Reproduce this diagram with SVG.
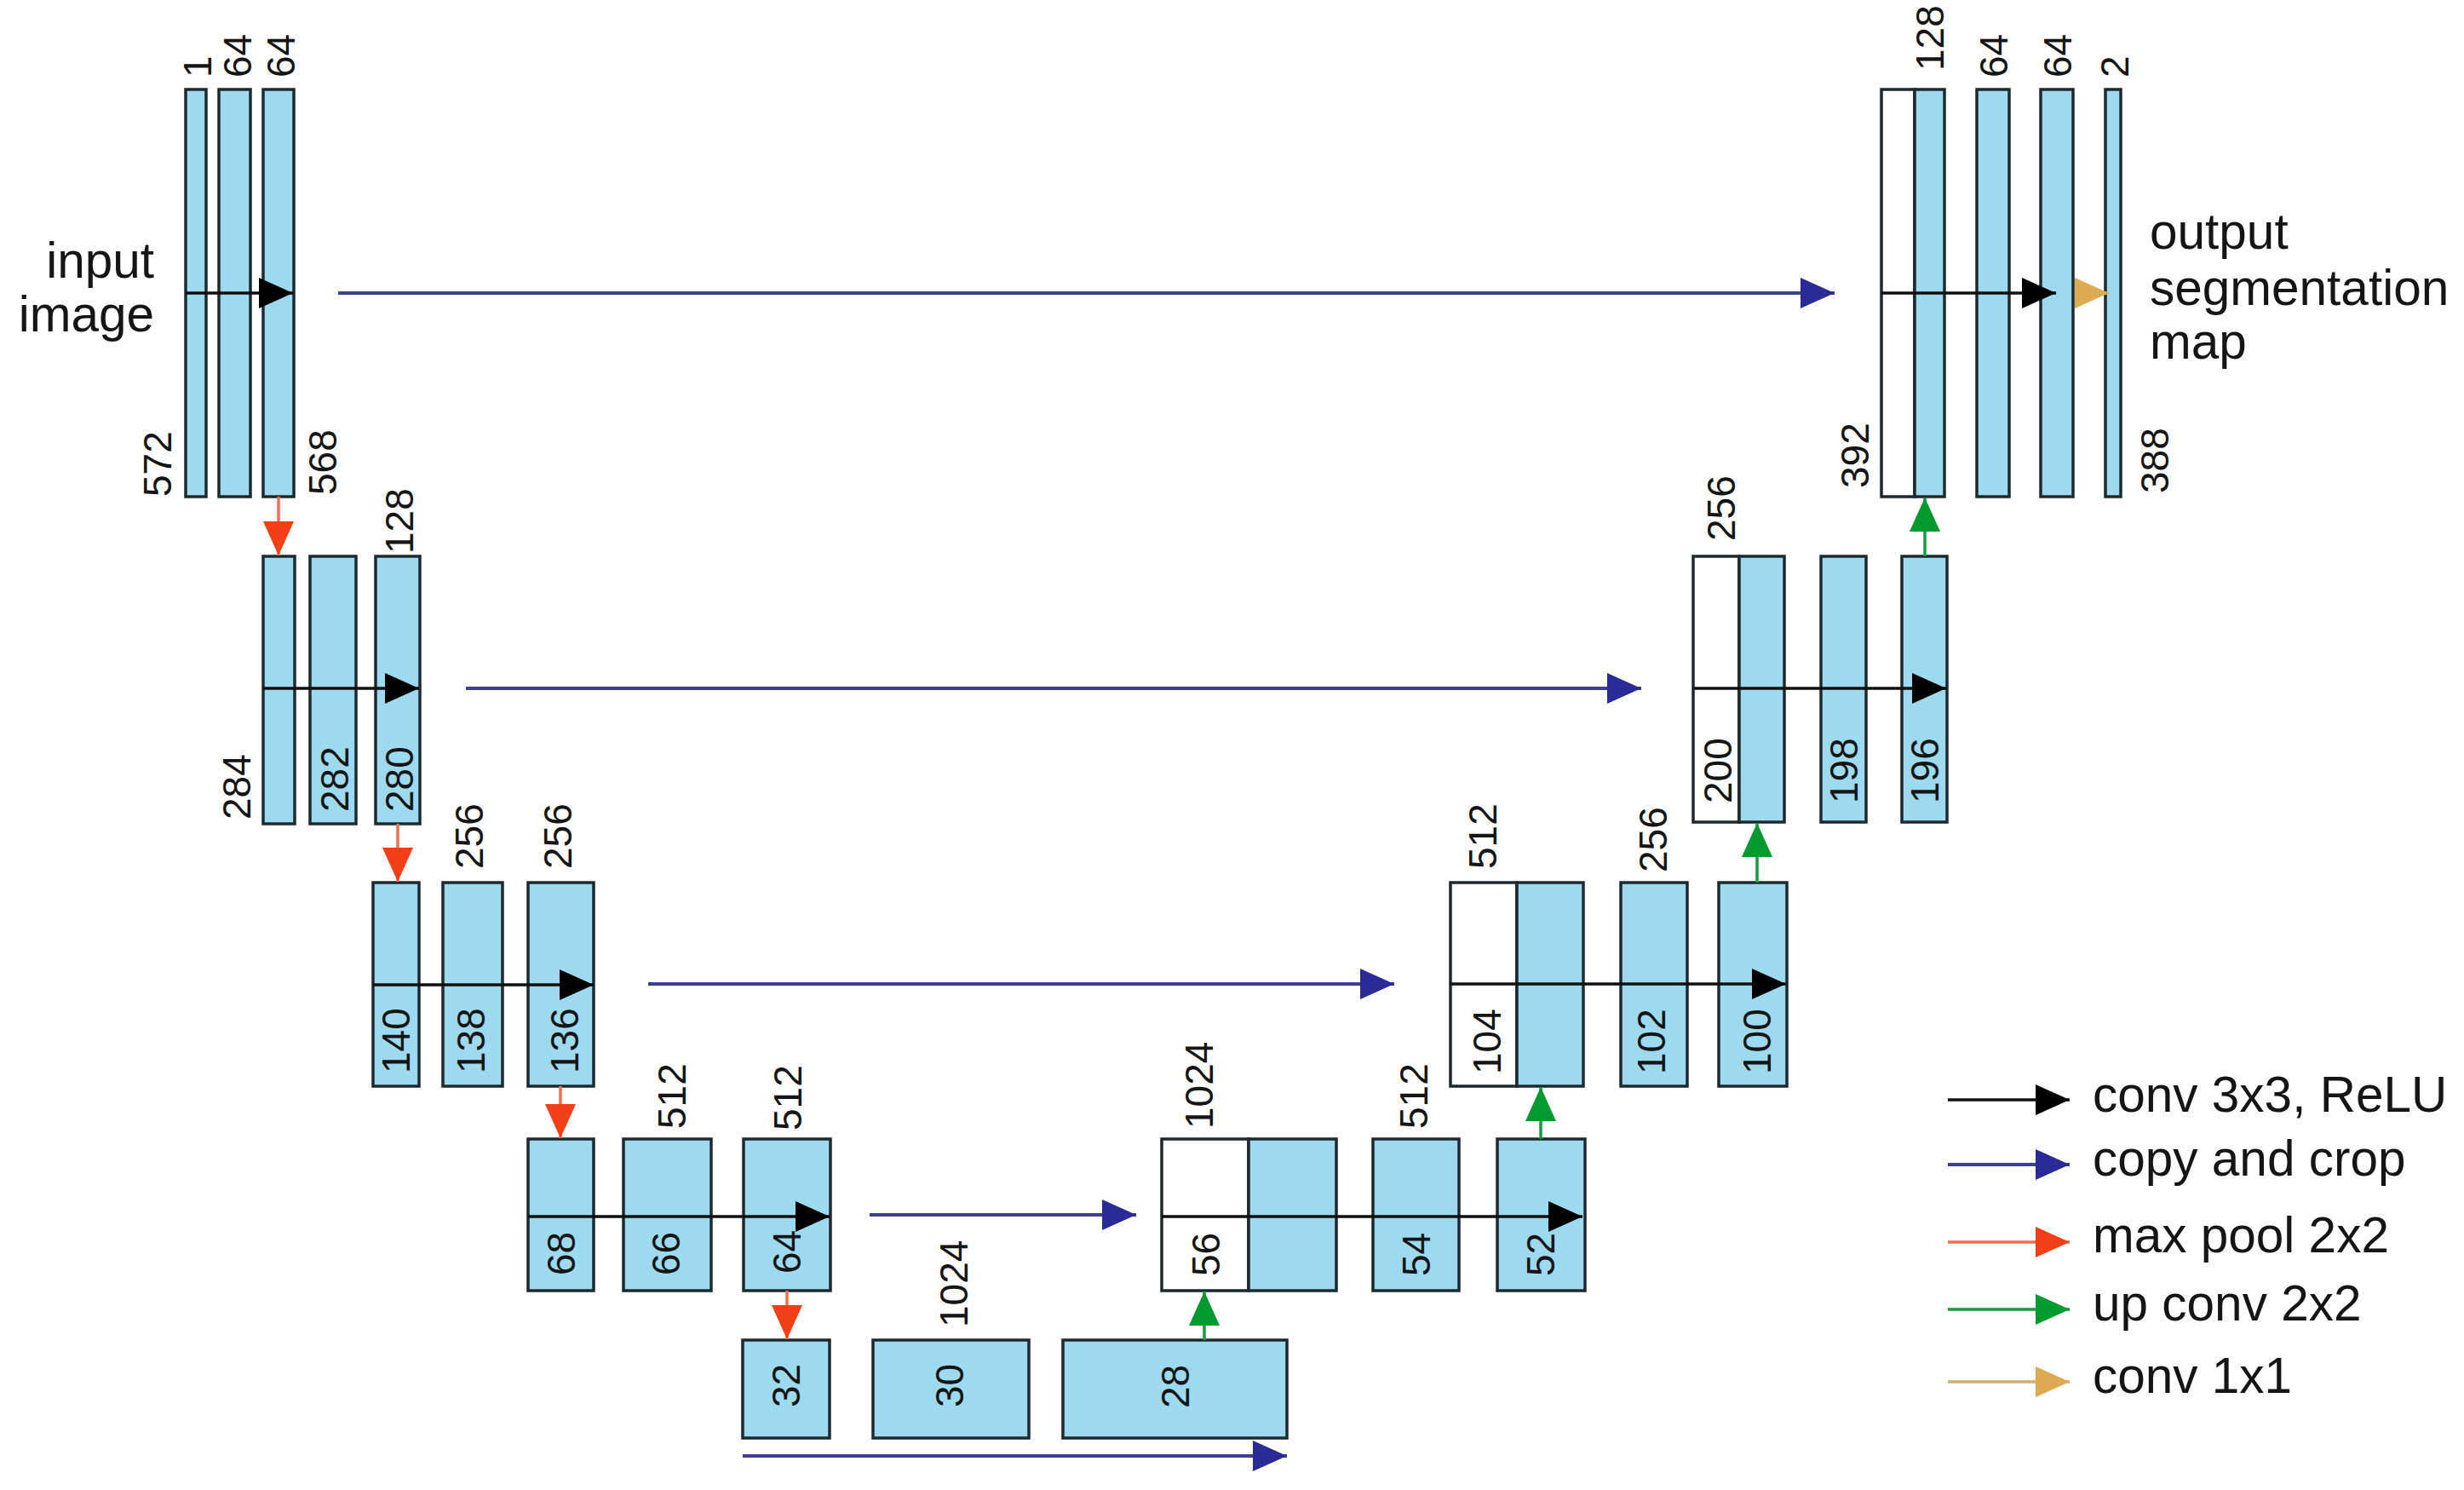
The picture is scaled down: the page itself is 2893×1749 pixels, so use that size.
<svg xmlns="http://www.w3.org/2000/svg" width="2893" height="1749" viewBox="0 0 2893 1749">
<defs>
<style>
.b{fill:#9dd9ef;stroke:#1c2a30;stroke-width:3.5}
.w{fill:#ffffff;stroke:#1c2a30;stroke-width:3.5}
.n{font-family:"Liberation Sans",Arial,sans-serif;font-size:46px;fill:#151515}
.t{font-family:"Liberation Sans",Arial,sans-serif;font-size:58.5px;fill:#151515}
.conv{stroke:#111;stroke-width:3.5;fill:none;marker-end:url(#mk)}
.copy{stroke:#3e418c;stroke-width:4;fill:none;marker-end:url(#mc)}
.pool{stroke:#f07050;stroke-width:3.5;fill:none;marker-end:url(#mp)}
.up{stroke:#1a9a40;stroke-width:3.5;fill:none;marker-end:url(#mu)}
.one{stroke:#d2ae6e;stroke-width:3.5;fill:none;marker-end:url(#mg)}
</style>
<marker id="mk" markerUnits="userSpaceOnUse" markerWidth="40" markerHeight="36" refX="40" refY="18" orient="auto"><path d="M0,0 L40,18 L0,36 z" fill="#000"/></marker>
<marker id="mc" markerUnits="userSpaceOnUse" markerWidth="40" markerHeight="36" refX="40" refY="18" orient="auto"><path d="M0,0 L40,18 L0,36 z" fill="#2b2b98"/></marker>
<marker id="mp" markerUnits="userSpaceOnUse" markerWidth="40" markerHeight="36" refX="40" refY="18" orient="auto"><path d="M0,0 L40,18 L0,36 z" fill="#f23f17"/></marker>
<marker id="mu" markerUnits="userSpaceOnUse" markerWidth="40" markerHeight="36" refX="40" refY="18" orient="auto"><path d="M0,0 L40,18 L0,36 z" fill="#009a2e"/></marker>
<marker id="mg" markerUnits="userSpaceOnUse" markerWidth="40" markerHeight="36" refX="40" refY="18" orient="auto"><path d="M0,0 L40,18 L0,36 z" fill="#dcaa52"/></marker>
</defs>
<rect width="2893" height="1749" fill="#ffffff"/>

<!-- Level 1 left -->
<g id="enc1">
<rect class="b" x="218" y="105" width="24" height="478"/>
<rect class="b" x="257" y="105" width="37" height="478"/>
<rect class="b" x="309" y="105" width="36" height="478"/>
<text class="n" transform="translate(248,91) rotate(-90)">1</text>
<text class="n" transform="translate(295,91) rotate(-90)">64</text>
<text class="n" transform="translate(346,91) rotate(-90)">64</text>
<text class="n" transform="translate(201,583) rotate(-90)">572</text>
<text class="n" transform="translate(395,581) rotate(-90)">568</text>
<text class="t" x="181" y="326" text-anchor="end">input</text>
<text class="t" x="181" y="389" text-anchor="end">image</text>
</g>

<!-- Level 2 left -->
<g id="enc2">
<rect class="b" x="309" y="653" width="37" height="314"/>
<rect class="b" x="364" y="653" width="54" height="314"/>
<rect class="b" x="441" y="653" width="52" height="314"/>
<text class="n" transform="translate(485,650) rotate(-90)">128</text>
<text class="n" transform="translate(294,962) rotate(-90)">284</text>
<text class="n" transform="translate(409,953) rotate(-90)">282</text>
<text class="n" transform="translate(485,953) rotate(-90)">280</text>
</g>

<!-- Level 3 left -->
<g id="enc3">
<rect class="b" x="438" y="1036" width="54" height="239"/>
<rect class="b" x="520" y="1036" width="70" height="239"/>
<rect class="b" x="620" y="1036" width="77" height="239"/>
<text class="n" transform="translate(567,1020) rotate(-90)">256</text>
<text class="n" transform="translate(671,1020) rotate(-90)">256</text>
<text class="n" transform="translate(481,1260) rotate(-90)">140</text>
<text class="n" transform="translate(569,1260) rotate(-90)">138</text>
<text class="n" transform="translate(679,1260) rotate(-90)">136</text>
</g>

<!-- Level 4 left -->
<g id="enc4">
<rect class="b" x="620" y="1337" width="77" height="178"/>
<rect class="b" x="732" y="1337" width="103" height="178"/>
<rect class="b" x="873" y="1337" width="102" height="178"/>
<text class="n" transform="translate(805,1325) rotate(-90)">512</text>
<text class="n" transform="translate(941,1327) rotate(-90)">512</text>
<text class="n" transform="translate(675,1497) rotate(-90)">68</text>
<text class="n" transform="translate(798,1497) rotate(-90)">66</text>
<text class="n" transform="translate(940,1495) rotate(-90)">64</text>
</g>

<!-- Bottleneck -->
<g id="bottleneck">
<rect class="b" x="872" y="1573" width="102" height="115"/>
<rect class="b" x="1025" y="1573" width="183" height="115"/>
<rect class="b" x="1248" y="1573" width="263" height="115"/>
<text class="n" transform="translate(1136,1558) rotate(-90)">1024</text>
<text class="n" transform="translate(939,1652) rotate(-90)">32</text>
<text class="n" transform="translate(1131,1652) rotate(-90)">30</text>
<text class="n" transform="translate(1396,1653) rotate(-90)">28</text>
</g>

<!-- Level 4 right -->
<g id="dec4">
<rect class="w" x="1364" y="1337" width="102" height="178"/>
<rect class="b" x="1466" y="1337" width="103" height="178"/>
<rect class="b" x="1612" y="1337" width="101" height="178"/>
<rect class="b" x="1758" y="1337" width="103" height="178"/>
<text class="n" transform="translate(1424,1325) rotate(-90)">1024</text>
<text class="n" transform="translate(1676,1325) rotate(-90)">512</text>
<text class="n" transform="translate(1432,1498) rotate(-90)">56</text>
<text class="n" transform="translate(1679,1498) rotate(-90)">54</text>
<text class="n" transform="translate(1825,1498) rotate(-90)">52</text>
</g>

<!-- Level 3 right -->
<g id="dec3">
<rect class="w" x="1703" y="1036" width="78" height="239"/>
<rect class="b" x="1781" y="1036" width="78" height="239"/>
<rect class="b" x="1903" y="1036" width="78" height="239"/>
<rect class="b" x="2018" y="1036" width="80" height="239"/>
<text class="n" transform="translate(1757,1020) rotate(-90)">512</text>
<text class="n" transform="translate(1957,1024) rotate(-90)">256</text>
<text class="n" transform="translate(1762,1261) rotate(-90)">104</text>
<text class="n" transform="translate(1955,1261) rotate(-90)">102</text>
<text class="n" transform="translate(2079,1261) rotate(-90)">100</text>
</g>

<!-- Level 2 right -->
<g id="dec2">
<rect class="w" x="1988" y="653" width="54" height="312"/>
<rect class="b" x="2042" y="653" width="53" height="312"/>
<rect class="b" x="2138" y="653" width="53" height="312"/>
<rect class="b" x="2233" y="653" width="53" height="312"/>
<text class="n" transform="translate(2037,635) rotate(-90)">256</text>
<text class="n" transform="translate(2033,943) rotate(-90)">200</text>
<text class="n" transform="translate(2181,943) rotate(-90)">198</text>
<text class="n" transform="translate(2276,943) rotate(-90)">196</text>
</g>

<!-- Level 1 right -->
<g id="dec1">
<rect class="w" x="2209" y="105" width="39" height="478"/>
<rect class="b" x="2248" y="105" width="35" height="478"/>
<rect class="b" x="2321" y="105" width="38" height="478"/>
<rect class="b" x="2396" y="105" width="38" height="478"/>
<rect class="b" x="2472" y="105" width="18" height="478"/>
<text class="n" transform="translate(2282,83) rotate(-90)">128</text>
<text class="n" transform="translate(2357,91) rotate(-90)">64</text>
<text class="n" transform="translate(2432,91) rotate(-90)">64</text>
<text class="n" transform="translate(2499,91) rotate(-90)">2</text>
<text class="n" transform="translate(2194,573) rotate(-90)">392</text>
<text class="n" transform="translate(2546,579) rotate(-90)">388</text>
<text class="t" x="2524" y="292">output</text>
<text class="t" x="2524" y="358">segmentation</text>
<text class="t" x="2524" y="421">map</text>
</g>

<!-- Legend -->
<g id="legend">
<line class="conv" x1="2287" y1="1291" x2="2430" y2="1291"/>
<line class="copy" x1="2287" y1="1367" x2="2430" y2="1367"/>
<line class="pool" x1="2287" y1="1458" x2="2430" y2="1458"/>
<line class="up" x1="2287" y1="1537" x2="2430" y2="1537"/>
<line class="one" x1="2287" y1="1622" x2="2430" y2="1622"/>
<text class="t" x="2457" y="1305">conv 3x3, ReLU</text>
<text class="t" x="2457" y="1380">copy and crop</text>
<text class="t" x="2457" y="1470">max pool 2x2</text>
<text class="t" x="2457" y="1550">up conv 2x2</text>
<text class="t" x="2457" y="1635">conv 1x1</text>
</g>

<!-- Connectors -->
<g id="connectors">
<line class="conv" x1="218" y1="344" x2="344" y2="344"/>
<line class="conv" x1="309" y1="808" x2="492" y2="808"/>
<line class="conv" x1="438" y1="1156" x2="697" y2="1156"/>
<line class="conv" x1="620" y1="1428" x2="974" y2="1428"/>
<line class="conv" x1="1364" y1="1428" x2="1858" y2="1428"/>
<line class="conv" x1="1703" y1="1155" x2="2097" y2="1155"/>
<line class="conv" x1="1988" y1="808" x2="2285" y2="808"/>
<line class="conv" x1="2209" y1="344" x2="2414" y2="344"/>
<line class="copy" x1="397" y1="344" x2="2154" y2="344"/>
<line class="copy" x1="547" y1="808" x2="1927" y2="808"/>
<line class="copy" x1="761" y1="1155" x2="1637" y2="1155"/>
<line class="copy" x1="1021" y1="1426" x2="1334" y2="1426"/>
<line class="copy" x1="872" y1="1709" x2="1511" y2="1709"/>
<line class="pool" x1="327" y1="583" x2="327" y2="652"/>
<line class="pool" x1="467" y1="967" x2="467" y2="1035"/>
<line class="pool" x1="658" y1="1275" x2="658" y2="1336"/>
<line class="pool" x1="924" y1="1515" x2="924" y2="1572"/>
<line class="up" x1="1414" y1="1573" x2="1414" y2="1516"/>
<line class="up" x1="1809" y1="1337" x2="1809" y2="1276"/>
<line class="up" x1="2063" y1="1036" x2="2063" y2="966"/>
<line class="up" x1="2260" y1="653" x2="2260" y2="584"/>
<line class="one" x1="2438" y1="344" x2="2476" y2="344"/>
</g>
</svg>
